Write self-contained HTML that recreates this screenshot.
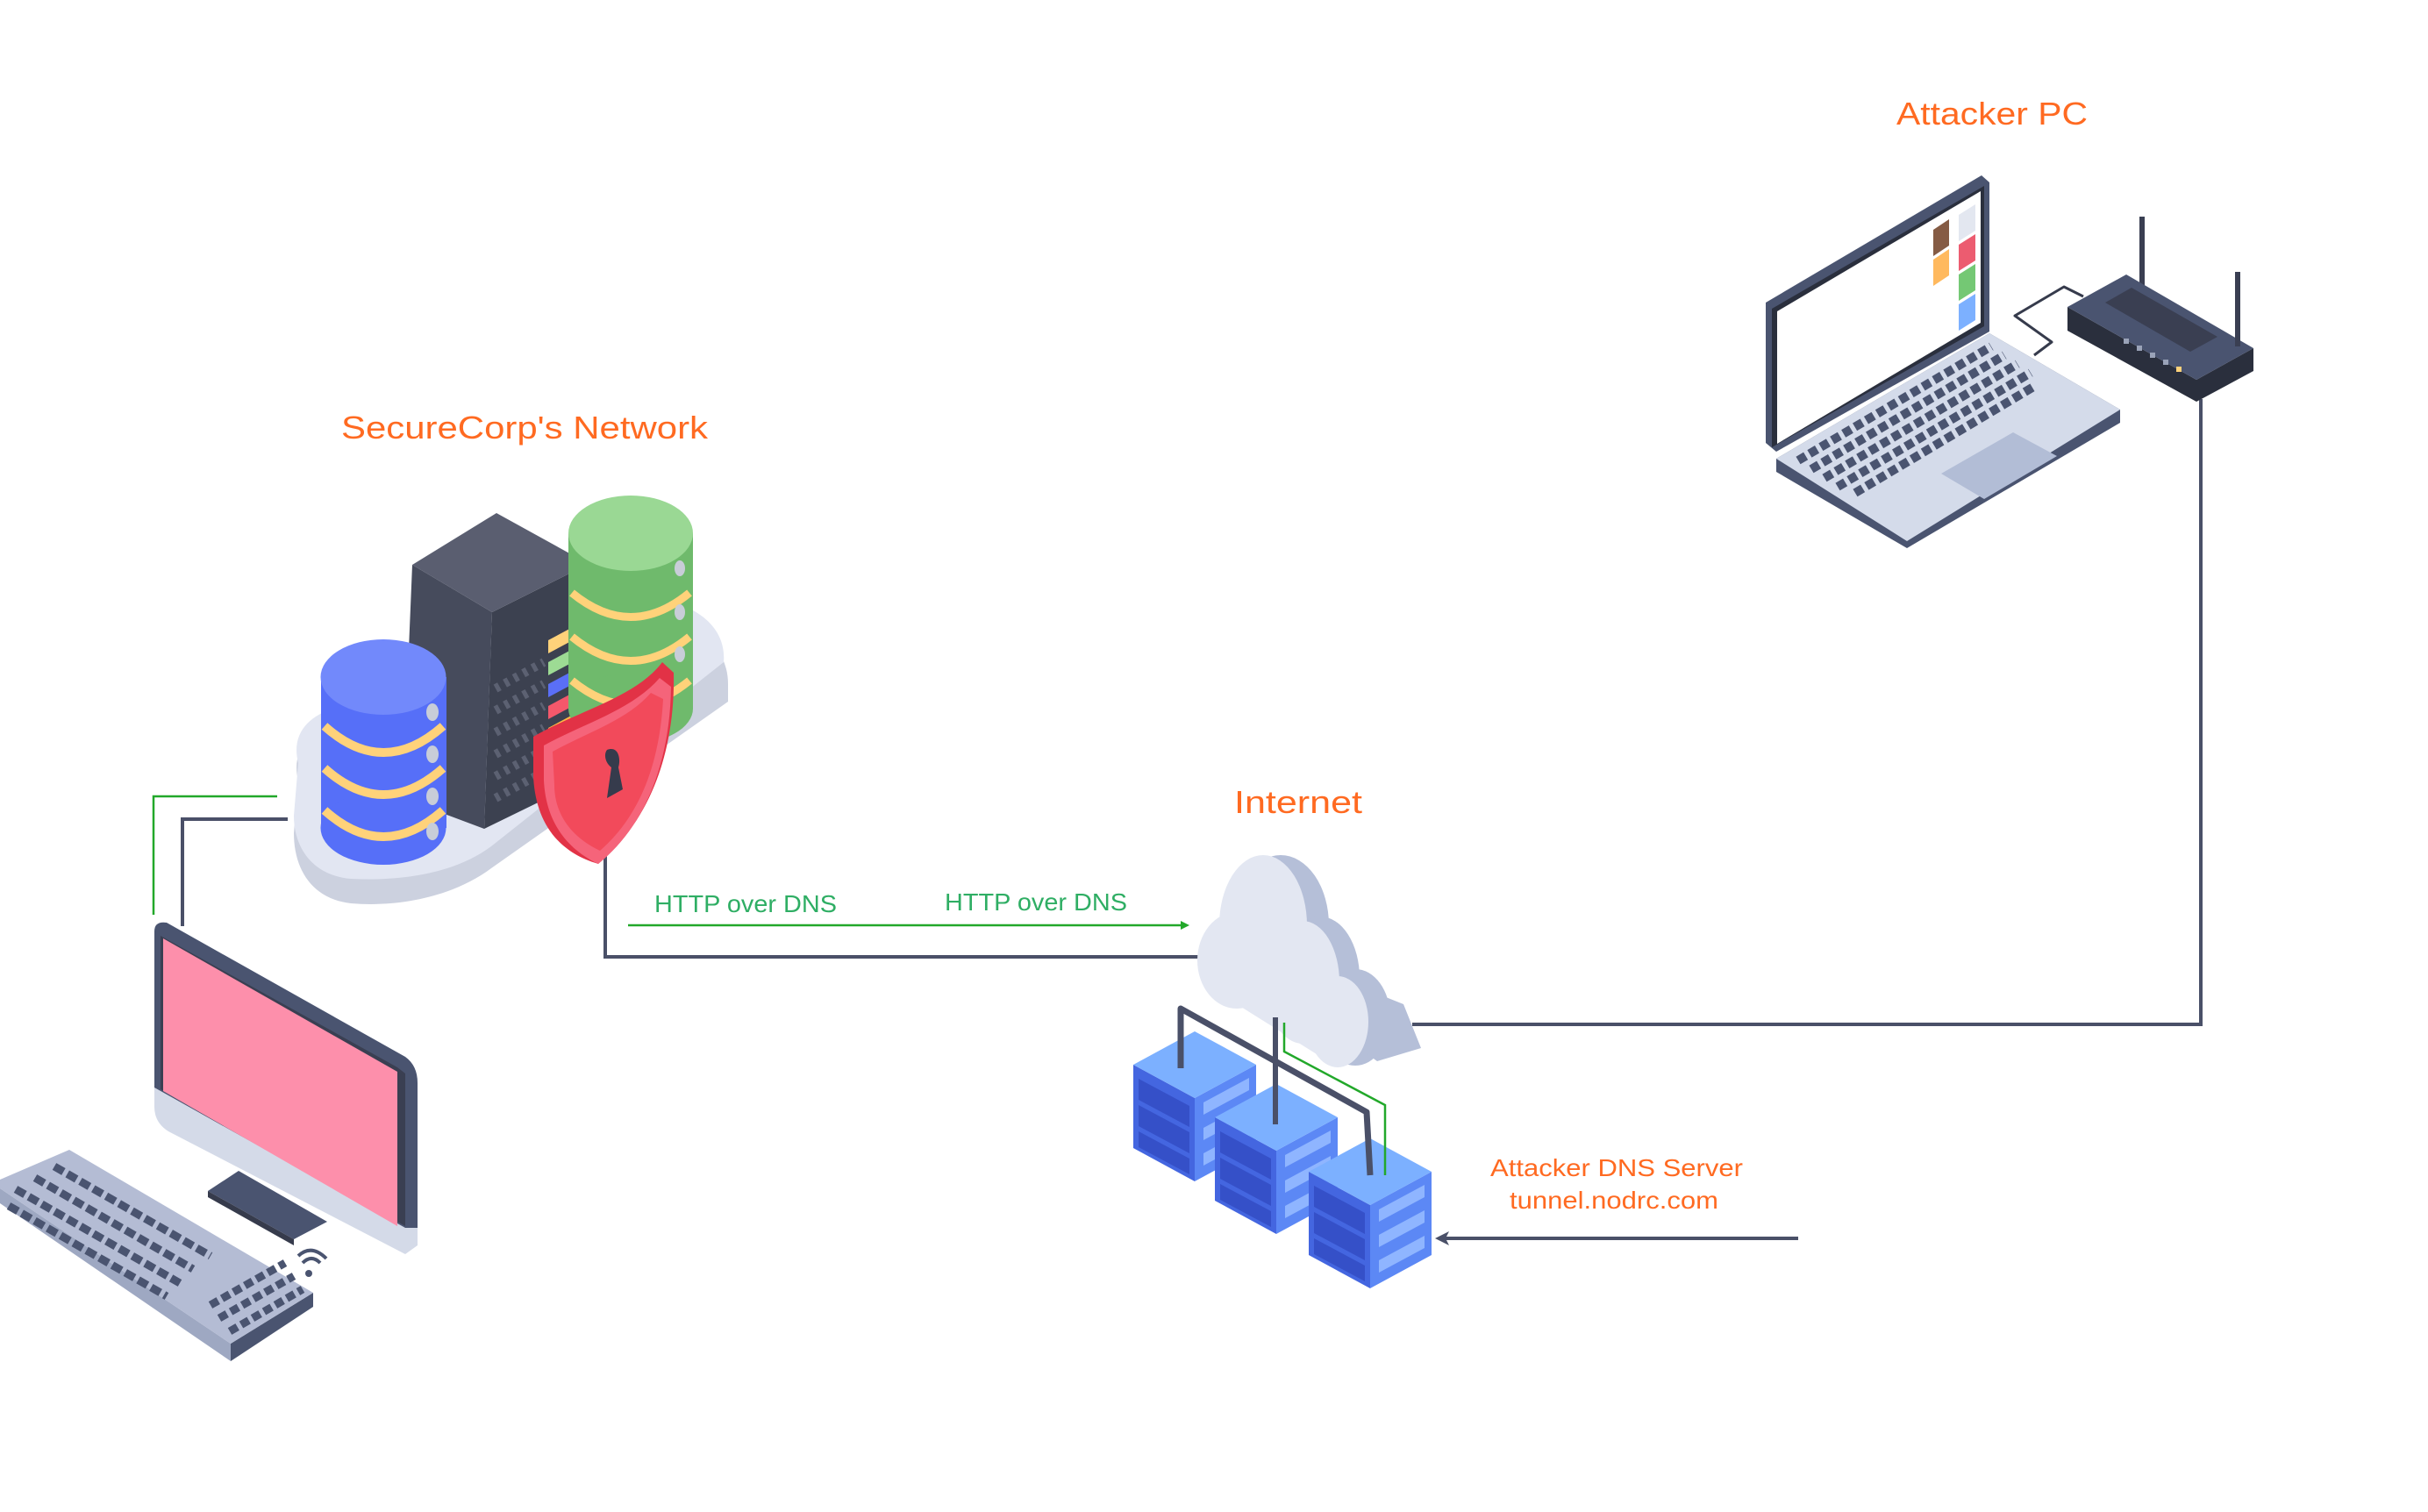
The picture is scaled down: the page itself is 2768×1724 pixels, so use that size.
<!DOCTYPE html>
<html><head><meta charset="utf-8"><style>
html,body{margin:0;padding:0;background:#fff;}
svg{display:block;}
text{font-family:"Liberation Sans",sans-serif;}
</style></head><body>
<svg width="2768" height="1724" viewBox="0 0 2768 1724" xmlns="http://www.w3.org/2000/svg">
<rect width="2768" height="1724" fill="#fff"/>

<!-- Labels -->
<text x="2271" y="142" font-size="36" fill="#ff6a21" text-anchor="middle" textLength="218" lengthAdjust="spacingAndGlyphs">Attacker PC</text>
<text x="598" y="500" font-size="36" fill="#ff6a21" text-anchor="middle" textLength="418" lengthAdjust="spacingAndGlyphs">SecureCorp's Network</text>
<text x="1480" y="927" font-size="36" fill="#ff6a21" text-anchor="middle" textLength="146" lengthAdjust="spacingAndGlyphs">Internet</text>
<text x="850" y="1040" font-size="28" fill="#2fae64" text-anchor="middle" textLength="208" lengthAdjust="spacingAndGlyphs">HTTP over DNS</text>
<text x="1181" y="1038" font-size="28" fill="#2fae64" text-anchor="middle" textLength="208" lengthAdjust="spacingAndGlyphs">HTTP over DNS</text>
<text x="1843" y="1341" font-size="28" fill="#ff6a21" text-anchor="middle" textLength="288" lengthAdjust="spacingAndGlyphs">Attacker DNS Server</text>
<text x="1840" y="1378" font-size="28" fill="#ff6a21" text-anchor="middle" textLength="238" lengthAdjust="spacingAndGlyphs">tunnel.nodrc.com</text>

<!-- Connectors -->
<polyline points="175,1043 175,908 316,908" fill="none" stroke="#22a82a" stroke-width="2.5"/>
<polyline points="208,1056 208,934 328,934" fill="none" stroke="#4a5068" stroke-width="4"/>
<line x1="716" y1="1055" x2="1352" y2="1055" stroke="#22a82a" stroke-width="2.5"/>
<polygon points="1356,1055 1346,1050 1346,1060" fill="#22a82a"/>
<polyline points="690,870 690,1091 1390,1091" fill="none" stroke="#4a5068" stroke-width="4"/>
<polyline points="1610,1168 2509,1168 2509,455" fill="none" stroke="#4a5068" stroke-width="4"/>
<line x1="1648" y1="1412" x2="2050" y2="1412" stroke="#4a5068" stroke-width="4"/>
<polygon points="1636,1412 1652,1404 1648,1412 1652,1420" fill="#4a5068"/>

<!-- Network platform -->
<path d="M340,890 C330,850 360,830 400,820 L700,710 C760,690 830,720 830,780 L830,800 L560,990 C520,1020 460,1035 400,1030 C355,1025 335,990 335,950 Z" fill="#ccd1df"/>
<path d="M340,870 C330,830 360,810 400,802 L700,690 C760,670 830,700 825,755 L560,965 C520,995 460,1005 400,1002 C355,998 335,965 335,930 Z" fill="#e2e6f2"/>

<!-- Server tower -->
<polygon points="470,644 561,698 552,945 459,910" fill="#464b5c"/>
<polygon points="561,698 671,643 671,887 552,945" fill="#3c4150"/>
<polygon points="566,585 671,643 561,698 470,644" fill="#5a5e70"/>
<polygon points="625,730 668,707 668,722 625,745" fill="#ffd27a"/>
<polygon points="625,755 668,732 668,747 625,770" fill="#9ddb94"/>
<polygon points="625,780 668,757 668,772 625,795" fill="#5a6ff7"/>
<polygon points="625,805 668,782 668,797 625,820" fill="#f4586b"/>
<polygon points="625,830 668,807 668,822 625,845" fill="#ffb945"/>
<g stroke="#5c6172" stroke-width="10" stroke-dasharray="5,7">
<line x1="565" y1="785" x2="620" y2="755"/>
<line x1="565" y1="810" x2="620" y2="780"/>
<line x1="565" y1="835" x2="620" y2="805"/>
<line x1="565" y1="860" x2="620" y2="830"/>
<line x1="565" y1="885" x2="620" y2="855"/>
<line x1="565" y1="910" x2="620" y2="880"/>
</g>

<!-- Green DB -->
<rect x="648" y="608" width="142" height="200" fill="#6fba6c"/>
<ellipse cx="719" cy="808" rx="71" ry="40" fill="#6fba6c"/>
<path d="M652,676 Q719,731 786,676" stroke="#ffd27a" stroke-width="9" fill="none"/>
<path d="M652,726 Q719,781 786,726" stroke="#ffd27a" stroke-width="9" fill="none"/>
<path d="M652,776 Q719,831 786,776" stroke="#ffd27a" stroke-width="9" fill="none"/>
<ellipse cx="719" cy="608" rx="71" ry="43" fill="#9ad894"/>
<ellipse cx="775" cy="648" rx="6" ry="9" fill="#c8cdd8"/>
<ellipse cx="775" cy="698" rx="6" ry="9" fill="#c8cdd8"/>
<ellipse cx="775" cy="746" rx="6" ry="9" fill="#c8cdd8"/>

<!-- Blue DB -->
<rect x="366" y="772" width="143" height="172" fill="#566ff8"/>
<ellipse cx="437" cy="944" rx="71.5" ry="42" fill="#566ff8"/>
<path d="M370,828 Q437,888 505,828" stroke="#ffd27a" stroke-width="10" fill="none"/>
<path d="M370,876 Q437,936 505,876" stroke="#ffd27a" stroke-width="10" fill="none"/>
<path d="M370,924 Q437,984 505,924" stroke="#ffd27a" stroke-width="10" fill="none"/>
<ellipse cx="437" cy="772" rx="71.5" ry="43" fill="#7289fb"/>
<ellipse cx="493" cy="812" rx="7" ry="10" fill="#c8cdd8"/>
<ellipse cx="493" cy="860" rx="7" ry="10" fill="#c8cdd8"/>
<ellipse cx="493" cy="908" rx="7" ry="10" fill="#c8cdd8"/>
<ellipse cx="493" cy="948" rx="7" ry="10" fill="#c8cdd8"/>

<!-- Shield -->
<path d="M608,840 C660,810 725,795 755,755 L768,767 C770,855 742,935 682,985 C630,970 610,930 608,885 Z" fill="#e23246"/>
<path d="M620,850 C665,825 720,810 752,773 L765,783 C764,865 738,940 682,985 C640,965 622,930 620,890 Z" fill="#f5647a"/>
<path d="M630,857 C670,835 715,821 742,790 L756,797 C752,870 730,930 684,970 C648,953 632,925 632,895 Z" fill="#f24a5b"/>
<path d="M692,855 C705,850 708,865 705,875 L710,900 L692,910 L697,875 C690,870 688,860 692,855 Z" fill="#363b4c"/>

<!-- Cloud -->
<g fill="#b5bfd8">
<ellipse cx="1460" cy="1055" rx="55" ry="80"/>
<ellipse cx="1505" cy="1115" rx="45" ry="70"/>
<ellipse cx="1545" cy="1160" rx="40" ry="55"/>
<polygon points="1400,1065 1600,1145 1620,1195 1570,1210 1440,1115"/>
</g>
<g fill="#e3e7f2">
<ellipse cx="1440" cy="1055" rx="50" ry="80"/>
<ellipse cx="1410" cy="1095" rx="45" ry="55"/>
<ellipse cx="1485" cy="1120" rx="42" ry="70"/>
<ellipse cx="1525" cy="1165" rx="35" ry="52"/>
<polygon points="1370,1105 1410,1145 1525,1217 1540,1195 1450,1075"/>
</g>

<!-- DNS servers -->
<g>
<polygon points="1292,1214 1362,1252 1362,1347 1292,1309" fill="#4466e0"/>
<polygon points="1362,1252 1432,1214 1432,1309 1362,1347" fill="#5c88f5"/>
<polygon points="1362,1176 1432,1214 1362,1252 1292,1214" fill="#7cb0ff"/>
<g fill="#3550c8"><polygon points="1298,1230 1356,1261 1356,1285 1298,1254"/><polygon points="1298,1260 1356,1291 1356,1315 1298,1284"/><polygon points="1298,1290 1356,1321 1356,1339 1298,1308"/></g>
<g fill="#8fb5ff"><polygon points="1372,1257 1424,1229 1424,1243 1372,1271"/><polygon points="1372,1286 1424,1258 1424,1272 1372,1300"/><polygon points="1372,1315 1424,1287 1424,1301 1372,1329"/></g>
</g>
<g>
<polygon points="1385,1274 1455,1312 1455,1407 1385,1369" fill="#4466e0"/>
<polygon points="1455,1312 1525,1274 1525,1369 1455,1407" fill="#5c88f5"/>
<polygon points="1455,1236 1525,1274 1455,1312 1385,1274" fill="#7cb0ff"/>
<g fill="#3550c8"><polygon points="1391,1290 1449,1321 1449,1345 1391,1314"/><polygon points="1391,1320 1449,1351 1449,1375 1391,1344"/><polygon points="1391,1350 1449,1381 1449,1399 1391,1368"/></g>
<g fill="#8fb5ff"><polygon points="1465,1317 1517,1289 1517,1303 1465,1331"/><polygon points="1465,1346 1517,1318 1517,1332 1465,1360"/><polygon points="1465,1375 1517,1347 1517,1361 1465,1389"/></g>
</g>
<g>
<polygon points="1492,1336 1562,1374 1562,1469 1492,1431" fill="#4466e0"/>
<polygon points="1562,1374 1632,1336 1632,1431 1562,1469" fill="#5c88f5"/>
<polygon points="1562,1298 1632,1336 1562,1374 1492,1336" fill="#7cb0ff"/>
<g fill="#3550c8"><polygon points="1498,1352 1556,1383 1556,1407 1498,1376"/><polygon points="1498,1382 1556,1413 1556,1437 1498,1406"/><polygon points="1498,1412 1556,1443 1556,1461 1498,1430"/></g>
<g fill="#8fb5ff"><polygon points="1572,1379 1624,1351 1624,1365 1572,1393"/><polygon points="1572,1408 1624,1380 1624,1394 1572,1422"/><polygon points="1572,1437 1624,1409 1624,1423 1572,1451"/></g>
</g>
<!-- cables -->
<polyline points="1346,1218 1346,1150 1558,1268 1562,1340" fill="none" stroke="#4a5068" stroke-width="7" stroke-linejoin="round"/>
<line x1="1454" y1="1160" x2="1454" y2="1282" stroke="#4a5068" stroke-width="6"/>
<polyline points="1464,1166 1464,1199 1579,1260 1579,1340" fill="none" stroke="#22a82a" stroke-width="2.5"/>

<!-- Monitor -->
<path d="M176,1062 Q176,1050 190,1052 L462,1205 Q476,1215 476,1235 L476,1420 L462,1430 L192,1290 Q176,1280 176,1262 Z" fill="#d4dae8"/>
<path d="M176,1062 Q176,1050 190,1052 L462,1205 Q476,1215 476,1235 L476,1400 L462,1400 L176,1240 Z" fill="#4a5470"/>
<polygon points="183,1067 453,1217 462,1224 462,1398 183,1242" fill="#3a3f52"/>
<polygon points="186,1070 453,1222 453,1398 186,1244" fill="#fd8fab"/>
<polygon points="237,1358 272,1335 373,1393 335,1413" fill="#4a5470"/>
<polygon points="237,1358 335,1413 335,1420 237,1365" fill="#363b4c"/>
<!-- Keyboard -->
<polygon points="0,1355 0,1372 263,1552 263,1532" fill="#9ea8c2"/>
<polygon points="263,1532 357,1474 357,1490 263,1552" fill="#4a5470"/>
<polygon points="79,1311 357,1474 263,1532 0,1355 0,1345" fill="#b4bcd4"/>
<g stroke="#4a5470" stroke-width="9" stroke-dasharray="12,5">
<line x1="62" y1="1330" x2="240" y2="1432"/>
<line x1="40" y1="1343" x2="220" y2="1447"/>
<line x1="18" y1="1356" x2="205" y2="1463"/>
<line x1="10" y1="1375" x2="190" y2="1478"/>
</g>
<g stroke="#4a5470" stroke-width="9" stroke-dasharray="10,5">
<line x1="240" y1="1488" x2="325" y2="1440"/>
<line x1="250" y1="1503" x2="335" y2="1455"/>
<line x1="262" y1="1518" x2="345" y2="1470"/>
</g>
<path d="M345,1440 Q355,1430 365,1440 M340,1432 Q355,1418 372,1435" stroke="#4a5470" stroke-width="4" fill="none"/>
<circle cx="352" cy="1452" r="4" fill="#4a5470"/>

<!-- Laptop -->
<polygon points="2025,523 2268,380 2417,467 2417,482 2174,625 2025,538" fill="#4a5470"/>
<polygon points="2025,523 2268,380 2417,467 2174,617" fill="#d4dbea"/>
<polygon points="2213,540 2295,493 2345,520 2262,569" fill="#b2bdd6"/>
<g stroke="#4a5470" stroke-width="10" stroke-dasharray="10,5">
<line x1="2050" y1="525" x2="2270" y2="395"/>
<line x1="2065" y1="535" x2="2285" y2="405"/>
<line x1="2080" y1="545" x2="2300" y2="415"/>
<line x1="2095" y1="555" x2="2315" y2="425"/>
<line x1="2115" y1="562" x2="2320" y2="440"/>
</g>
<polygon points="2013,345 2013,505 2025,515 2268,378 2268,208 2259,200" fill="#4a5470"/>
<polygon points="2020,352 2262,212 2262,372 2020,510" fill="#2a2f3d"/>
<polygon points="2026,355 2258,218 2258,368 2026,506" fill="#ffffff"/>
<polygon points="2204,262 2222,250 2222,280 2204,292" fill="#855b44"/>
<polygon points="2233,245 2252,233 2252,263 2233,275" fill="#e3e7f0"/>
<polygon points="2204,296 2222,284 2222,314 2204,326" fill="#ffb95e"/>
<polygon points="2233,279 2252,267 2252,297 2233,309" fill="#ec5c70"/>
<polygon points="2233,313 2252,301 2252,331 2233,343" fill="#74c874"/>
<polygon points="2233,347 2252,335 2252,365 2233,377" fill="#7cb0ff"/>
<polyline points="2319,405 2339,390 2297,360 2353,327 2375,338" fill="none" stroke="#363b4c" stroke-width="3" stroke-linejoin="round"/>
<!-- Router -->
<line x1="2442" y1="247" x2="2442" y2="330" stroke="#3a3f52" stroke-width="6"/>
<polygon points="2357,350 2504,433 2504,458 2357,377" fill="#2a2f3d"/>
<polygon points="2504,433 2569,397 2569,423 2504,458" fill="#2a2f3d"/>
<polygon points="2357,350 2424,313 2569,397 2504,433" fill="#4a5470"/>
<polygon points="2400,345 2430,328 2528,384 2497,401" fill="#3a3f52"/>
<line x1="2551" y1="310" x2="2551" y2="395" stroke="#3a3f52" stroke-width="6"/>
<g fill="#9aa3b8"><rect x="2421" y="386" width="6" height="6"/><rect x="2436" y="394" width="6" height="6"/><rect x="2451" y="402" width="6" height="6"/><rect x="2466" y="410" width="6" height="6"/></g>
<rect x="2481" y="418" width="6" height="6" fill="#ffd27a"/>
</svg>
</body></html>
